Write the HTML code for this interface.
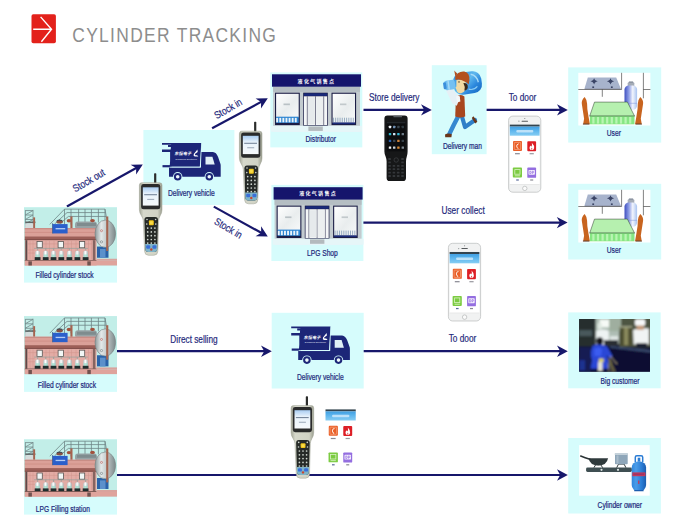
<!DOCTYPE html>
<html lang="en">
<head>
<meta charset="utf-8">
<title>Cylinder Tracking</title>
<style>
html,body{margin:0;padding:0;background:#fff;}
body{width:680px;height:532px;overflow:hidden;}
svg{display:block;}
text{font-family:"Liberation Sans","Noto Sans CJK SC",sans-serif;}
.lbl{font-size:8.15px;fill:#1f2a7c;text-anchor:middle;stroke:#1f2a7c;stroke-width:0.22px;}
.big{font-size:10.1px;fill:#1f2a7c;text-anchor:middle;stroke:#1f2a7c;stroke-width:0.2px;}
.ln{stroke:#17176b;stroke-width:2.2;fill:none;}
.hd{fill:#17176b;}
.bx{fill:#d6fcfc;}
</style>
</head>
<body>
<svg width="680" height="532" viewBox="0 0 680 532">
<defs>

<linearGradient id="tankg" x1="0" y1="0" x2="1" y2="0">
<stop offset="0" stop-color="#8d9899"/><stop offset="0.3" stop-color="#e4e9e9"/><stop offset="0.55" stop-color="#c3cbcc"/><stop offset="1" stop-color="#7d898a"/>
</linearGradient>
<linearGradient id="cylg" x1="0" y1="0" x2="1" y2="0">
<stop offset="0" stop-color="#b9c4c4"/><stop offset="0.45" stop-color="#ffffff"/><stop offset="1" stop-color="#a9b5b5"/>
</linearGradient>
<g id="factory">
<rect x="0" y="0" width="93" height="57.2" fill="#c2eee8"/>
<!-- left tower lattice -->
<g stroke="#73898a" stroke-width="0.8" fill="none">
<path d="M1.2 3.2H9M1.2 7.6H9M1.2 12H9M9 2.6V20M1.4 3V20M1.2 7.6L9 3.2M1.2 12L9 7.6M1.2 16.4L9 12"/>
</g>
<rect x="1.2" y="15.8" width="8.4" height="4.8" fill="#d5dcdc"/>
<rect x="1.4" y="14" width="10" height="1.5" fill="#5e6464"/>
<rect x="9.2" y="9.9" width="1.9" height="10.6" fill="#a5634f"/>
<!-- roof rail structure -->
<g stroke="#6f8586" stroke-width="0.8" fill="none">
<path d="M25.8 16.8L40.5 1.8H81L82.6 11M30.5 16.5L43 5.2H81.4M35.5 16.5L44.4 9H82M40.5 1.8V17M47 1.8V17M54.6 1.8V15M61 1.8V15M67.4 1.8V15M74.4 1.8V15M81 1.8V13"/>
</g>
<!-- roof grey tank -->
<rect x="51" y="14" width="22" height="7.6" rx="3" fill="#97a3a5"/>
<rect x="53" y="15.4" width="19" height="3" fill="#7f8c8e"/>
<!-- small domes -->
<ellipse cx="35.6" cy="13.6" rx="3" ry="1.5" fill="#3d4a52"/>
<ellipse cx="35.6" cy="14.6" rx="3.2" ry="1.3" fill="#8a5244"/>
<ellipse cx="45" cy="13.2" rx="2.3" ry="1.7" fill="#a2503c"/>
<ellipse cx="68.5" cy="13" rx="2.4" ry="1.6" fill="#a2503c"/>
<rect x="46.4" y="9" width="2.1" height="12" fill="#a5634f"/>
<!-- main building -->
<rect x="0.8" y="20.4" width="71.8" height="36.8" fill="#e3aca5"/>
<rect x="0.8" y="20.4" width="71.8" height="8.4" fill="#dba098"/>
<rect x="0.8" y="20.4" width="71.8" height="1.2" fill="#c98d85"/>
<rect x="0.8" y="24.2" width="71.8" height="0.9" fill="#cf8f86"/>
<rect x="0.8" y="28.7" width="71.8" height="3.4" fill="#9d5f58"/>
<rect x="0.8" y="31.4" width="71.8" height="0.9" fill="#7e4a45"/>
<g stroke="#d0948c" stroke-width="0.5">
<path d="M6 33V51M9 33V51M22 33V51M25.5 33V51M30 33V51M44 33V51M47.5 33V51M52 33V51M64.5 33V51M67.5 33V51M4 36H68M4 42H11M4 45H11"/>
</g>
<rect x="1.4" y="32.3" width="1.9" height="19.6" fill="#5e4a48"/>
<rect x="68.8" y="32.3" width="2.6" height="19.6" fill="#856460"/>
<!-- windows -->
<g fill="#f2f7f6" stroke="#5b5654" stroke-width="0.8">
<rect x="13" y="33.6" width="5.3" height="6.2"/>
<rect x="34.1" y="33.6" width="5.3" height="6.2"/>
<rect x="55.4" y="33.6" width="5.3" height="6.2"/>
</g>
<!-- pipes above cylinders -->
<g stroke="#86a09c" stroke-width="0.6" fill="none">
<path d="M13.6 40.4V43.2" /><path d="M21.7 40.4V43.2" /><path d="M29.5 40.4V43.2" /><path d="M37.3 40.4V43.2" /><path d="M45.4 40.4V43.2" /><path d="M53.4 40.4V43.2" /><path d="M61.6 40.4V43.2" /><path d="M10 40.4H64"/>
</g>
<!-- cylinders -->
<rect x="11.2" y="42.8" width="4.8" height="7.4" rx="2" fill="url(#cylg)"/><rect x="19.3" y="42.8" width="4.8" height="7.4" rx="2" fill="url(#cylg)"/><rect x="27.1" y="42.8" width="4.8" height="7.4" rx="2" fill="url(#cylg)"/><rect x="34.9" y="42.8" width="4.8" height="7.4" rx="2" fill="url(#cylg)"/><rect x="43.0" y="42.8" width="4.8" height="7.4" rx="2" fill="url(#cylg)"/><rect x="51.0" y="42.8" width="4.8" height="7.4" rx="2" fill="url(#cylg)"/><rect x="59.2" y="42.8" width="4.8" height="7.4" rx="2" fill="url(#cylg)"/><rect x="11.8" y="46.4" width="3.6" height="3" fill="#9bdccb" opacity="0.75"/><rect x="19.9" y="46.4" width="3.6" height="3" fill="#9bdccb" opacity="0.75"/><rect x="27.7" y="46.4" width="3.6" height="3" fill="#9bdccb" opacity="0.75"/><rect x="35.5" y="46.4" width="3.6" height="3" fill="#9bdccb" opacity="0.75"/><rect x="43.6" y="46.4" width="3.6" height="3" fill="#9bdccb" opacity="0.75"/><rect x="51.6" y="46.4" width="3.6" height="3" fill="#9bdccb" opacity="0.75"/><rect x="59.8" y="46.4" width="3.6" height="3" fill="#9bdccb" opacity="0.75"/><rect x="10.7" y="49" width="5.8" height="3" fill="#1f2e2e"/><rect x="18.8" y="49" width="5.8" height="3" fill="#1f2e2e"/><rect x="26.6" y="49" width="5.8" height="3" fill="#1f2e2e"/><rect x="34.4" y="49" width="5.8" height="3" fill="#1f2e2e"/><rect x="42.5" y="49" width="5.8" height="3" fill="#1f2e2e"/><rect x="50.5" y="49" width="5.8" height="3" fill="#1f2e2e"/><rect x="58.7" y="49" width="5.8" height="3" fill="#1f2e2e"/>
<!-- base -->
<rect x="0.8" y="51.8" width="71.8" height="0.8" fill="#5e403d"/>
<rect x="0.8" y="52.5" width="92.2" height="4.7" fill="#dfa39c"/>
<rect x="4.4" y="53.1" width="3.5" height="4.1" fill="#71524f"/>
<rect x="63.3" y="53.1" width="3.5" height="4.1" fill="#71524f"/>
<rect x="72.6" y="50.6" width="20.4" height="2" fill="#d9a39d"/>
<!-- big tank -->
<rect x="73" y="38.6" width="11.5" height="11" fill="#2a62a8"/>
<rect x="76" y="41" width="5.5" height="8.6" fill="#5b90cb"/>
<ellipse cx="81.3" cy="26" rx="10.3" ry="13.4" fill="url(#tankg)"/>
<ellipse cx="81.3" cy="26" rx="10.3" ry="13.4" fill="none" stroke="#748182" stroke-width="0.6"/>
<rect x="82.2" y="9" width="2.1" height="34" fill="#a5634f"/>
<circle cx="77.5" cy="23" r="1" fill="none" stroke="#c0605a" stroke-width="0.6"/>
<circle cx="77.5" cy="34" r="1.1" fill="none" stroke="#6f7c7d" stroke-width="0.6"/>
<!-- blue sign -->
<rect x="28.1" y="15.8" width="1" height="10" fill="#3f5f9a"/>
<rect x="29" y="16.5" width="14.6" height="9.2" fill="#2a5fcb"/>
<rect x="31.6" y="20.4" width="9.6" height="1.3" fill="#b4ccf4"/>
</g>


<g id="truck">
<g fill="#1c2678">
<!-- cargo + speed bars -->
<path d="M0.2 0.4H39.6L38.1 24.1H7.9L8.3 18.5V9.4H0.2V6.9H8.9L9.1 4.4H6.2V2.4H9.3L9.4 2.2H0.2Z"/>
<rect x="0.7" y="22.5" width="9" height="2.2"/>
<!-- chassis -->
<path d="M7.2 25H39.2V9.4H51.1Q54.5 9.6 56.3 14.5L58.7 21.3Q58.9 22 58.9 23V34.1H7.2Z"/>
</g>
<!-- cab window -->
<path d="M43.7 14.1H50.6L52.9 21.8H43.7Z" fill="#dfeff6"/>
<!-- gap between cargo and cab -->
<path d="M39.9 0.4L38.5 24.5" stroke="#d6fcfc" stroke-width="0.7"/>
<path d="M7.9 24.55H38.6" stroke="#d6fcfc" stroke-width="0.7"/>
<!-- wheels -->
<g>
<circle cx="15.9" cy="34.1" r="4.7" fill="#d6fcfc"/><circle cx="15.9" cy="34.1" r="3.8" fill="#1c2678"/><circle cx="15.9" cy="34.1" r="1.8" fill="#eef7fa"/>
<circle cx="47.5" cy="34.1" r="4.7" fill="#d6fcfc"/><circle cx="47.5" cy="34.1" r="3.8" fill="#1c2678"/><circle cx="47.5" cy="34.1" r="1.8" fill="#eef7fa"/>
</g>
<text x="12.4" y="12.8" font-size="4.2" font-weight="bold" font-style="italic" fill="#fff" letter-spacing="0.1" style="font-family:'Liberation Sans','Noto Sans CJK SC',sans-serif">东恒电子</text>
<path d="M35.6 6.9L32 11.5Q31.2 13.6 33 14H36.6L35.3 12.6H33.6Q32.8 12.2 33.4 11.2L35.9 9.4Z" fill="#fff"/>
<text x="13.8" y="17" font-size="2.35" fill="#e8ecf8" textLength="21.2" lengthAdjust="spacingAndGlyphs">Dongheng Electronic</text>
</g>


<linearGradient id="scbody" x1="0" y1="0" x2="1" y2="0">
<stop offset="0" stop-color="#a3a697"/><stop offset="0.18" stop-color="#d6d8cb"/><stop offset="0.8" stop-color="#d0d2c4"/><stop offset="1" stop-color="#9a9d8e"/>
</linearGradient>
<linearGradient id="scscr" x1="0" y1="0" x2="0" y2="1">
<stop offset="0" stop-color="#a9cdf2"/><stop offset="0.35" stop-color="#e8f2fb"/><stop offset="1" stop-color="#f6f9fb"/>
</linearGradient>
<g id="scanner">
<rect x="14.7" y="-9.4" width="2.2" height="10.5" rx="0.7" fill="#2b2c2b"/>
<path d="M2.4 0H20.2Q22.6 0 22.6 2.4V27Q22.6 30 20.8 33Q19.3 35.6 19.2 38L18.4 68.6Q18.2 72.6 14.4 72.6H9.2Q5.4 72.6 5.2 68.6L3.9 38Q3.8 35.6 2 33Q0 30 0 27V2.4Q0 0 2.4 0Z" fill="url(#scbody)" stroke="#9b9e90" stroke-width="0.5"/>
<rect x="1.7" y="1.4" width="19.2" height="25.2" rx="2.4" fill="#2a2b2b"/>
<rect x="3.4" y="4.6" width="15.8" height="18.3" fill="url(#scscr)"/>
<rect x="4.8" y="11.6" width="12.8" height="0.9" fill="#5d6e86"/>
<rect x="7.8" y="16.2" width="7" height="0.8" fill="#8593a6"/>
<!-- keypad -->
<path d="M7.6 34.4H15.8Q18.6 34.4 18.6 37.4L17.8 66.4Q17.6 69.4 14.8 69.4H8.8Q6 69.4 5.9 66.4L5 37.4Q5 34.4 7.6 34.4Z" fill="#262a27"/>
<path d="M5.75 61.4H17.95L17.8 66.4Q17.6 69.4 14.8 69.4H8.8Q6 69.4 5.9 66.4Z" fill="#7fb4c8"/>
<g fill="#cfd6cf">
<circle cx="7.6" cy="36.8" r="0.8"/><circle cx="16.2" cy="36.8" r="0.8"/>
<circle cx="7.4" cy="41.4" r="0.8"/><circle cx="16.4" cy="41.4" r="0.8"/>
<circle cx="8.3" cy="45.4" r="0.85"/><circle cx="11.9" cy="45.4" r="0.85"/><circle cx="15.5" cy="45.4" r="0.85"/><circle cx="8.3" cy="49.2" r="0.85"/><circle cx="11.9" cy="49.2" r="0.85"/><circle cx="15.5" cy="49.2" r="0.85"/><circle cx="8.3" cy="53" r="0.85"/><circle cx="11.9" cy="53" r="0.85"/><circle cx="15.5" cy="53" r="0.85"/><circle cx="8.3" cy="56.8" r="0.85"/><circle cx="11.9" cy="56.8" r="0.85"/><circle cx="15.5" cy="56.8" r="0.85"/><circle cx="8.3" cy="60.4" r="0.85"/><circle cx="11.9" cy="60.4" r="0.85"/><circle cx="15.5" cy="60.4" r="0.85"/>
</g>
<rect x="9.5" y="37.6" width="4.9" height="4.9" rx="1" fill="#f0c419"/>
<rect x="10.5" y="38.6" width="2.9" height="2.9" rx="0.6" fill="#f8dc4a"/>
<g fill="#3a6fd8">
<rect x="6.8" y="62.6" width="4" height="3.4" rx="1.2"/><rect x="13" y="62.6" width="4" height="3.4" rx="1.2"/>
</g>
<circle cx="11.9" cy="66.8" r="1.2" fill="#c8452f"/>
</g>


<linearGradient id="apphd" x1="0" y1="0" x2="0" y2="1">
<stop offset="0" stop-color="#3f9fe3"/><stop offset="0.5" stop-color="#62b8ee"/><stop offset="1" stop-color="#86cdf3"/>
</linearGradient>
<g id="app">
<rect x="0" y="0" width="29.8" height="2" fill="#33444f"/>
<rect x="0" y="2" width="29.8" height="9.1" fill="url(#apphd)"/>
<rect x="6.5" y="5.4" width="17" height="2.4" rx="1" fill="#d4ecfb" opacity="0.8"/>
<!-- orange icon -->
<rect x="3.2" y="16.4" width="9" height="9.9" rx="0.9" fill="#ea5f28"/>
<rect x="4.5" y="17.8" width="6.4" height="7.1" rx="0.5" fill="none" stroke="#f6b190" stroke-width="0.6"/>
<path d="M8.9 19.2Q6.2 19.8 7 22.4L8.4 24.2" stroke="#fde9dd" stroke-width="1" fill="none"/>
<!-- red icon -->
<rect x="17.5" y="16.6" width="8.8" height="10" rx="0.9" fill="#dd1f26"/>
<path d="M22 18.2Q24.8 21 24.3 23.6Q23.8 25.5 22 25.5Q19.9 25.5 19.7 23.6Q19.6 22 20.8 20.8Q21.1 22 21.7 21.8Q22.5 20.4 22 18.2Z" fill="#fff"/>
<path d="M22 23Q23 24.1 22 25.5Q20.9 24.3 22 23Z" fill="#dd1f26"/>
<!-- captions -->
<rect x="5.2" y="28.5" width="4.8" height="1.2" fill="#8a8a94"/>
<rect x="19.8" y="28.5" width="4.2" height="1.2" fill="#9a9aa0"/>
<!-- green icon -->
<rect x="3" y="43" width="9.2" height="9.9" rx="0.9" fill="#7ccb42"/>
<rect x="5" y="45" width="5.2" height="4.6" fill="none" stroke="#d9f2c4" stroke-width="0.8"/>
<path d="M5 51.2H10.2" stroke="#d9f2c4" stroke-width="0.8"/>
<!-- purple icon -->
<rect x="17.5" y="43" width="8.8" height="10.2" rx="0.9" fill="#946ee0"/>
<rect x="18.7" y="45.4" width="6.4" height="4.8" rx="0.7" fill="#f3edfc"/>
<path d="M20 46.5V49.2M20 46.5Q21.5 46.5 21.5 47.8Q21.5 49.2 20 49.2M22.6 49.2V46.5Q24.1 46.5 24.1 47.4Q24.1 48.3 22.6 48.3" stroke="#946ee0" stroke-width="0.65" fill="none"/>
<rect x="6.4" y="54.8" width="2.6" height="1.2" fill="#5a6a9a"/>
<rect x="20.4" y="54.8" width="3" height="1.2" fill="#8a8a94"/>
</g>
<g id="phone">
<rect x="0.3" y="0.3" width="32.2" height="76.1" rx="4.2" fill="#f1f2f2" stroke="#b9bcbc" stroke-width="0.7"/>
<rect x="1.5" y="8.8" width="29.8" height="60" fill="#fff"/>
<rect x="13.2" y="5" width="6.6" height="0.9" rx="0.45" fill="#55595c"/>
<circle cx="16.5" cy="2.7" r="0.5" fill="#6a6e71"/>
<circle cx="10.6" cy="5.4" r="0.6" fill="#8a8e91"/>
<use href="#app" x="1.5" y="8.8"/>
<rect x="1.5" y="68.3" width="29.8" height="0.5" fill="#d5d7d7"/>
<circle cx="16.5" cy="72.6" r="2.2" fill="#fbfbfb" stroke="#a9acac" stroke-width="0.6"/>
</g>


<linearGradient id="wing" x1="0" y1="0" x2="1" y2="1">
<stop offset="0" stop-color="#ffffff"/><stop offset="0.55" stop-color="#e9edee"/><stop offset="1" stop-color="#f7f9f9"/>
</linearGradient>
<g id="store">
<rect x="1" y="12" width="87" height="39.6" fill="#c3cbcf"/>
<rect x="1" y="12.4" width="87" height="5.2" fill="#b5bec3"/>
<rect x="0" y="0" width="89" height="12.4" fill="#15156c"/>
<text x="44.5" y="8.3" font-size="5" font-weight="bold" fill="#fff" text-anchor="middle" letter-spacing="1.3" style="font-family:'Liberation Sans','Noto Sans CJK SC',sans-serif">液化气销售点</text>
<!-- left window -->
<rect x="3" y="18.4" width="24.8" height="32.4" fill="#1b1d45"/>
<rect x="4.1" y="19.5" width="22.6" height="23.6" fill="url(#wing)"/>
<rect x="4.1" y="42.4" width="22.6" height="6.2" fill="#2f86d2"/>
<rect x="4.2" y="43.6" width="1.9" height="4.4" fill="#eaf4fb"/><rect x="7.3" y="43.6" width="1.9" height="4.4" fill="#eaf4fb"/><rect x="10.4" y="43.6" width="1.9" height="4.4" fill="#eaf4fb"/><rect x="13.5" y="43.6" width="1.9" height="4.4" fill="#eaf4fb"/><rect x="16.6" y="43.6" width="1.9" height="4.4" fill="#eaf4fb"/><rect x="19.7" y="43.6" width="1.9" height="4.4" fill="#eaf4fb"/><rect x="22.8" y="43.6" width="1.9" height="4.4" fill="#eaf4fb"/>
<rect x="11.5" y="29.2" width="6.4" height="1.7" fill="#b9c1c5"/>
<!-- door -->
<rect x="31.2" y="18.4" width="24.6" height="33" fill="#1b1d45"/>
<rect x="31.9" y="22" width="23.2" height="28.8" fill="#f4f6f7"/>
<rect x="31.9" y="19" width="23.2" height="2.6" fill="#1a2a7a"/>
<g stroke="#2a2c4a" stroke-width="0.6"><path d="M35.3 22V50.8M43.5 22V50.8M51.7 22V50.8"/></g>
<rect x="36" y="23" width="6.8" height="27" fill="#e6eaec"/>
<rect x="44.2" y="23" width="6.8" height="27" fill="#eceff0"/>
<!-- right window -->
<rect x="59.5" y="18.4" width="24.6" height="32.4" fill="#1b1d45"/>
<rect x="60.6" y="19.5" width="22.4" height="29" fill="url(#wing)"/>
<rect x="61.0" y="43.4" width="0.9" height="4.8" fill="#8fa6bd"/><rect x="63.2" y="43.4" width="0.9" height="4.8" fill="#8fa6bd"/><rect x="65.4" y="43.4" width="0.9" height="4.8" fill="#8fa6bd"/><rect x="67.6" y="43.4" width="0.9" height="4.8" fill="#8fa6bd"/><rect x="69.8" y="43.4" width="0.9" height="4.8" fill="#8fa6bd"/><rect x="72.0" y="43.4" width="0.9" height="4.8" fill="#8fa6bd"/><rect x="74.2" y="43.4" width="0.9" height="4.8" fill="#8fa6bd"/><rect x="76.4" y="43.4" width="0.9" height="4.8" fill="#8fa6bd"/><rect x="78.6" y="43.4" width="0.9" height="4.8" fill="#8fa6bd"/><rect x="80.8" y="43.4" width="0.9" height="4.8" fill="#8fa6bd"/>
<rect x="60.6" y="48.2" width="22.4" height="1.6" fill="#1a2a7a"/>
<rect x="68" y="29.2" width="6.4" height="1.7" fill="#c2c9cc"/>
<!-- floor and step -->
<rect x="-1" y="51.6" width="91" height="5.8" fill="#e6f6f8"/>
<rect x="36.4" y="52.2" width="14.4" height="4.4" fill="#b3babd"/>
<rect x="1" y="56.8" width="87" height="0.7" fill="#e8f4f8"/>
</g>


<linearGradient id="gasg" x1="0" y1="0" x2="1" y2="0">
<stop offset="0" stop-color="#3f4fc0"/><stop offset="0.35" stop-color="#8f9fe6"/><stop offset="0.65" stop-color="#f2f5fd"/><stop offset="1" stop-color="#a9c3f0"/>
</linearGradient>
<g id="kitchen">
<rect x="0" y="0" width="72.1" height="52.7" fill="#fff"/>
<!-- stove -->
<path d="M9.5 4.7H37.9L42.4 15.4H6.3Z" fill="#a7b3cc"/>
<path d="M6.3 15.4H42.4V16.4H6.3Z" fill="#7f8aa6"/>
<g fill="#3b4566">
<path d="M15.8 5.4L16.8 7.5L19.4 8.5L16.8 9.5L15.8 11.6L14.8 9.5L12.2 8.5L14.8 7.5Z"/>
<path d="M32.2 5.4L33.2 7.5L35.8 8.5L33.2 9.5L32.2 11.6L31.2 9.5L28.6 8.5L31.2 7.5Z"/>
<circle cx="15.8" cy="8.5" r="1.6"/><circle cx="32.2" cy="8.5" r="1.6"/>
<rect x="14" y="13.6" width="1.8" height="1.6"/><rect x="32.6" y="13.6" width="1.8" height="1.6"/>
</g>
<g stroke="#2d2d2d" stroke-width="0.6" fill="none">
<path d="M0 16.7H43.3M43.3 0V16.7M65.1 0V25.5M65.1 16.7H72.1M24 16.7V24"/>
</g>
<!-- gas cylinder -->
<rect x="49.4" y="9.4" width="6.6" height="5" rx="1" fill="#a4abb6"/>
<rect x="50.6" y="8.6" width="4.2" height="1.6" fill="#8d95a2"/>
<rect x="46.2" y="12.6" width="12.6" height="24.4" rx="4.2" fill="url(#gasg)"/>
<path d="M46.4 30.5H58.6" stroke="#7f93d8" stroke-width="0.5"/>
<!-- chairs -->
<path d="M6.4 24.3Q3 27.4 3.5 31L5.8 46L4.8 51.5H11.6L10.2 43.6Q8.6 36 8.8 31Q8.6 27 6.4 24.3Z" fill="#c8641f"/>
<path d="M61.9 24.3Q65.3 27.4 64.8 31L62.5 46L63.5 51.5H56.7L58.1 43.6Q59.7 36 59.5 31Q59.7 27 61.9 24.3Z" fill="#c8641f"/>
<path d="M4.6 51.3H11M57.4 51.3H63.6" stroke="#2d2d2d" stroke-width="0.7"/>
<!-- table -->
<path d="M16.2 29.3H49.1L56.3 43.3H11.4Z" fill="#b6f0af" stroke="#2f3b2f" stroke-width="0.5"/>
<rect x="11.6" y="43.3" width="44.6" height="8.2" fill="#86e683"/>
<rect x="14.0" y="44.2" width="2.2" height="6.6" fill="#b9f5b3"/><rect x="18.6" y="44.2" width="2.2" height="6.6" fill="#b9f5b3"/><rect x="23.2" y="44.2" width="2.2" height="6.6" fill="#b9f5b3"/><rect x="27.8" y="44.2" width="2.2" height="6.6" fill="#b9f5b3"/><rect x="32.4" y="44.2" width="2.2" height="6.6" fill="#b9f5b3"/><rect x="37.0" y="44.2" width="2.2" height="6.6" fill="#b9f5b3"/><rect x="41.6" y="44.2" width="2.2" height="6.6" fill="#b9f5b3"/><rect x="46.2" y="44.2" width="2.2" height="6.6" fill="#b9f5b3"/><rect x="50.8" y="44.2" width="2.2" height="6.6" fill="#b9f5b3"/>
<path d="M11.4 43.3H56.3" stroke="#3d6b3d" stroke-width="0.5"/>
</g>

<!--DEFS-->
</defs>
<rect width="680" height="532" fill="#fff"/>

<!-- header -->
<g id="header">
<rect x="31.5" y="14.2" width="24.4" height="29" rx="1.8" fill="#e3211b"/>
<path d="M33.2 29.3H51M40.6 16.9L51.5 29.3L41.4 41.7" stroke="#fff" stroke-width="1.4" fill="none"/>
<text id="title" transform="translate(72.3,42) scale(0.88,1)" font-size="19.8" fill="#8d8d8d" letter-spacing="1.5">CYLINDER TRACKING</text>
</g>

<!-- boxes -->
<g id="boxes">
<rect class="bx" x="24" y="207.3" width="93" height="75.3"/>
<rect class="bx" x="143.4" y="130" width="91" height="75"/>
<rect class="bx" x="270.3" y="72.4" width="92" height="75"/>
<rect class="bx" x="271.4" y="184.9" width="92" height="76.1"/>
<rect class="bx" x="431.8" y="65.2" width="54.8" height="89"/>
<rect class="bx" x="568.2" y="67.4" width="93" height="75.2"/>
<rect class="bx" x="568.2" y="183.8" width="93" height="75.7"/>
<rect class="bx" x="24" y="316.1" width="93" height="75.8"/>
<rect class="bx" x="271.7" y="312.8" width="92" height="75.7"/>
<rect class="bx" x="568.2" y="312.4" width="92.5" height="75.9"/>
<rect class="bx" x="24" y="439.4" width="93" height="75.2"/>
<rect class="bx" x="568.2" y="438" width="92.7" height="75.5"/>
</g>

<!-- arrows -->
<g id="arrows">
<path class="ln" d="M363.5 109.9L425.80 109.90"/><path class="hd" transform="translate(431.8,109.9) rotate(0.00)" d="M0 0L-10.8 -5.7L-7.6 0L-10.8 5.7Z"/>
<path class="ln" d="M486.6 109.9L561.80 109.90"/><path class="hd" transform="translate(567.8,109.9) rotate(0.00)" d="M0 0L-10.8 -5.7L-7.6 0L-10.8 5.7Z"/>
<path class="ln" d="M363.4 222.6L561.60 222.60"/><path class="hd" transform="translate(567.6,222.6) rotate(0.00)" d="M0 0L-10.8 -5.7L-7.6 0L-10.8 5.7Z"/>
<path class="ln" d="M117 351.2L265.80 351.20"/><path class="hd" transform="translate(271.8,351.2) rotate(0.00)" d="M0 0L-10.8 -5.7L-7.6 0L-10.8 5.7Z"/>
<path class="ln" d="M363.7 351.2L561.80 351.20"/><path class="hd" transform="translate(567.8,351.2) rotate(0.00)" d="M0 0L-10.8 -5.7L-7.6 0L-10.8 5.7Z"/>
<path class="ln" d="M117 475L561.80 475.00"/><path class="hd" transform="translate(567.8,475) rotate(0.00)" d="M0 0L-10.8 -5.7L-7.6 0L-10.8 5.7Z"/>
<path class="ln" d="M66.9 206.5L137.55 167.31"/><path class="hd" transform="translate(142.8,164.4) rotate(-29.02)" d="M0 0L-10.8 -5.7L-7.6 0L-10.8 5.7Z"/>
<path class="ln" d="M212.1 128.2L262.51 101.14"/><path class="hd" transform="translate(267.8,98.3) rotate(-28.23)" d="M0 0L-10.8 -5.7L-7.6 0L-10.8 5.7Z"/>
<path class="ln" d="M213.8 206.6L262.55 233.50"/><path class="hd" transform="translate(267.8,236.4) rotate(28.89)" d="M0 0L-10.8 -5.7L-7.6 0L-10.8 5.7Z"/>
</g>

<!-- labels -->
<g id="labels">
<text class="lbl" transform="translate(64.6,278.4) scale(0.82,1)">Filled cylinder stock</text>
<text class="lbl" transform="translate(191.3,196.2) scale(0.82,1)">Delivery vehicle</text>
<text class="lbl" transform="translate(320.7,142) scale(0.82,1)">Distributor</text>
<text class="lbl" transform="translate(322.4,255.5) scale(0.82,1)">LPG Shop</text>
<text class="lbl" transform="translate(462.4,149.3) scale(0.82,1)">Delivery man</text>
<text class="lbl" transform="translate(613.8,136.3) scale(0.82,1)">User</text>
<text class="lbl" transform="translate(613.8,252.9) scale(0.82,1)">User</text>
<text class="lbl" transform="translate(66.9,387.7) scale(0.82,1)">Filled cylinder stock</text>
<text class="lbl" transform="translate(320.3,379.8) scale(0.82,1)">Delivery vehicle</text>
<text class="lbl" transform="translate(620,383.6) scale(0.82,1)">Big customer</text>
<text class="lbl" transform="translate(62.8,511.9) scale(0.82,1)">LPG Filling station</text>
<text class="lbl" transform="translate(619.8,507.8) scale(0.82,1)">Cylinder owner</text>
<text class="big" transform="translate(394.2,100.8) scale(0.82,1)">Store delivery</text>
<text class="big" transform="translate(522.5,100.8) scale(0.82,1)">To door</text>
<text class="big" transform="translate(463.1,213.8) scale(0.82,1)">User collect</text>
<text class="big" transform="translate(194,343.3) scale(0.82,1)">Direct selling</text>
<text class="big" transform="translate(462.5,342) scale(0.82,1)">To door</text>
<text class="big" style="font-size:10.4px" transform="translate(90.6,183.6) rotate(-30.5) scale(0.82,1)">Stock out</text>
<text class="big" style="font-size:10.4px" transform="translate(229.8,111.8) rotate(-30) scale(0.82,1)">Stock in</text>
<text class="big" style="font-size:10.4px" transform="translate(226.6,231.2) rotate(30.5) scale(0.82,1)">Stock in</text>
</g>


<g id="factories">
<use href="#factory" transform="translate(24,207.3) scale(1,1.017)"/>
<use href="#factory" transform="translate(24,316.1) scale(1,1.014)"/>
<use href="#factory" x="24" y="439.4"/>
</g>

<g id="trucks">
<use href="#truck" x="161.8" y="142.6"/>
<use href="#truck" x="291" y="326"/>
</g>

<g id="scanners">
<use href="#scanner" x="239.4" y="131.2"/>
<use href="#scanner" x="139.4" y="182.7"/>
<use href="#scanner" x="291.1" y="405.6"/>
</g>

<g id="pda" transform="translate(384.4,115.5)">
<path d="M3 0H20.2Q23.2 0 23.2 3V36Q23.2 38.5 22.4 41Q21.6 43.5 21.6 46V62.5Q21.6 65.6 18.6 65.6H5.2Q2.2 65.6 2.2 62.5V46Q2.2 43.5 1.2 41Q0 38.5 0 36V3Q0 0 3 0Z" fill="#161718"/>
<rect x="9" y="0.2" width="8.6" height="1.6" rx="0.6" fill="#5a5f63"/>
<rect x="2.4" y="6.2" width="18.6" height="29.6" fill="#0c0d0f"/>
<rect x="2.4" y="6.2" width="18.6" height="1.6" fill="#23272b"/>
<rect x="4.4" y="10.3" width="2.4" height="2.4" rx="0.4" fill="#e9eef2"/><rect x="8.6" y="10.3" width="2.4" height="2.4" rx="0.4" fill="#6f8fb3"/><rect x="12.8" y="10.3" width="2.4" height="2.4" rx="0.4" fill="#3b4650"/><rect x="17.2" y="10.3" width="2.4" height="2.4" rx="0.4" fill="#2f3a40"/><rect x="4.4" y="17.4" width="2.4" height="2.4" rx="0.4" fill="#2fb5c9"/><rect x="8.6" y="17.4" width="2.4" height="2.4" rx="0.4" fill="#cfe3f2"/><rect x="12.8" y="17.4" width="2.4" height="2.4" rx="0.4" fill="#35b8d6"/><rect x="17.2" y="17.4" width="2.4" height="2.4" rx="0.4" fill="#6c7a86"/><rect x="4.4" y="24.2" width="2.4" height="2.4" rx="0.4" fill="#2a5fa8"/><rect x="8.6" y="24.2" width="2.4" height="2.4" rx="0.4" fill="#39434d"/><rect x="12.8" y="24.2" width="2.4" height="2.4" rx="0.4" fill="#c9803a"/><rect x="17.2" y="24.2" width="2.4" height="2.4" rx="0.4" fill="#37424a"/><rect x="4.4" y="30.9" width="2.4" height="2.4" rx="0.4" fill="#f0f2f3"/><rect x="8.6" y="30.9" width="2.4" height="2.4" rx="0.4" fill="#c9d0d6"/><rect x="12.8" y="30.9" width="2.4" height="2.4" rx="0.4" fill="#d98a35"/><rect x="17.2" y="30.9" width="2.4" height="2.4" rx="0.4" fill="#7d8790"/>
<circle cx="11.8" cy="44.5" r="2.2" fill="none" stroke="#3d4144" stroke-width="0.7"/>
<rect x="3.9" y="42.6" width="2.6" height="1.8" rx="0.5" fill="#34373a"/><rect x="16.8" y="42.6" width="2.6" height="1.8" rx="0.5" fill="#34373a"/><rect x="3.9" y="46.0" width="2.6" height="1.8" rx="0.5" fill="#34373a"/><rect x="16.8" y="46.0" width="2.6" height="1.8" rx="0.5" fill="#34373a"/><rect x="3.9" y="49.4" width="2.6" height="1.8" rx="0.5" fill="#34373a"/><rect x="8.2" y="49.4" width="2.6" height="1.8" rx="0.5" fill="#34373a"/><rect x="12.5" y="49.4" width="2.6" height="1.8" rx="0.5" fill="#34373a"/><rect x="16.8" y="49.4" width="2.6" height="1.8" rx="0.5" fill="#34373a"/><rect x="3.9" y="52.8" width="2.6" height="1.8" rx="0.5" fill="#34373a"/><rect x="8.2" y="52.8" width="2.6" height="1.8" rx="0.5" fill="#34373a"/><rect x="12.5" y="52.8" width="2.6" height="1.8" rx="0.5" fill="#34373a"/><rect x="16.8" y="52.8" width="2.6" height="1.8" rx="0.5" fill="#34373a"/><rect x="3.9" y="56.2" width="2.6" height="1.8" rx="0.5" fill="#34373a"/><rect x="8.2" y="56.2" width="2.6" height="1.8" rx="0.5" fill="#34373a"/><rect x="12.5" y="56.2" width="2.6" height="1.8" rx="0.5" fill="#34373a"/><rect x="16.8" y="56.2" width="2.6" height="1.8" rx="0.5" fill="#34373a"/><rect x="3.9" y="59.6" width="2.6" height="1.8" rx="0.5" fill="#34373a"/><rect x="8.2" y="59.6" width="2.6" height="1.8" rx="0.5" fill="#34373a"/><rect x="12.5" y="59.6" width="2.6" height="1.8" rx="0.5" fill="#34373a"/><rect x="16.8" y="59.6" width="2.6" height="1.8" rx="0.5" fill="#34373a"/>
</g>


<g id="phones">
<use href="#phone" x="508.3" y="115.8"/>
<use href="#phone" transform="translate(448.1,243) scale(1,1.021)"/>
<use href="#app" transform="translate(325.5,409.4) scale(1.015,1)"/>
</g>

<g id="stores">
<use href="#store" x="272" y="74.3"/>
<use href="#store" x="273.6" y="187.2"/>
</g>

<linearGradient id="botg" x1="0" y1="0" x2="1" y2="1">
<stop offset="0" stop-color="#2a8ae0"/><stop offset="0.45" stop-color="#5fb8ee"/><stop offset="0.7" stop-color="#2a86dc"/><stop offset="1" stop-color="#1668c0"/>
</linearGradient>
<g id="man" transform="translate(431.8,65)">
<!-- bottle body -->
<g transform="rotate(-8 34 18)">
<rect x="21.5" y="7.2" width="28.4" height="22" rx="8.5" fill="url(#botg)"/>
<path d="M40 10Q46 12 46.5 19" stroke="#a9dcf8" stroke-width="1.3" fill="none"/>
<path d="M36 24.5Q41 26.5 45 23" stroke="#8ccdf4" stroke-width="1.1" fill="none"/>
</g>
<!-- back leg -->
<path d="M30 51L33.2 62L43.2 55" stroke="#2f7fc8" stroke-width="4.2" fill="none" stroke-linejoin="round" stroke-linecap="round"/>
<path d="M41.6 51.2L45.6 56.8L43.4 58.4L40 53Z" fill="#6a3519"/>
<!-- front leg -->
<path d="M26.6 51L21.8 60.2L17.4 69.4" stroke="#3588d0" stroke-width="4.4" fill="none" stroke-linejoin="round" stroke-linecap="round"/>
<path d="M13.2 69.6Q16 67.8 20 69.2L19.6 72.2H13.4Z" fill="#6a3519"/>
<!-- torso vest -->
<path d="M24.2 31.2Q28.5 28.6 32.6 31.4L33.4 51.6Q28.5 53.4 23.4 51.4Z" fill="#a8471f"/>
<!-- shirt / arm -->
<path d="M28.2 32.4L25 40.8L20.6 38.4L14.2 25.4L15 17.6L20.4 17L21 24.6Z" fill="#e6f0f5"/>
<path d="M24.4 31.4L27.6 30.2L28.6 36.4L25.2 37.6Z" fill="#f3f7f9"/>
<!-- bottle neck -->
<g transform="rotate(-8 34 18)">
<rect x="12.6" y="13" width="10.6" height="9.6" rx="2" fill="#74c0f1"/>
<rect x="11.4" y="14.4" width="3" height="6.8" rx="1" fill="#3b8fdc"/>
<rect x="16" y="13" width="1.4" height="9.6" fill="#a8daf7"/>
</g>
<!-- head -->
<path d="M24.6 15.2Q33.4 12.4 34.4 19.4Q35 26.4 29.4 28.2Q25.2 28.8 24.6 24.6L23.6 22.8L24.6 21.4Z" fill="#f1daa3"/>
<path d="M31.6 18Q36.4 17.6 36 22.6Q35.4 25.6 32.6 25.4Q33.6 21.6 31.6 18Z" fill="#3b2a1b"/>
<circle cx="27.2" cy="16.9" r="0.7" fill="#2b1d12"/>
<!-- cap -->
<path d="M23.4 12.8Q25.6 6 32.4 6.6Q38.2 7.6 37.6 15.4L36.8 19.6Q33 15.4 26.4 14.6L23.6 15Z" fill="#b4511f"/>
<path d="M23.8 12.6L22.4 5.4L25.4 8.6Z" fill="#b4511f"/>
</g>


<g id="kitchens">
<use href="#kitchen" x="578.3" y="72.8"/>
<use href="#kitchen" x="578.3" y="189.8"/>
</g>

<filter id="blur1" x="-5%" y="-5%" width="110%" height="110%"><feGaussianBlur stdDeviation="0.85"/></filter>
<clipPath id="phclip"><rect x="0" y="0" width="70.9" height="52.6"/></clipPath>
<g id="photo" transform="translate(579.1,319.1)" clip-path="url(#phclip)">
<rect x="0" y="0" width="70.9" height="52.6" fill="#0d1230"/>
<g filter="url(#blur1)">
<!-- backgrounds -->
<rect x="-2" y="-2" width="20" height="30" fill="#252d2e"/>
<rect x="0" y="11" width="13" height="6" fill="#4a585c"/>
<rect x="16.5" y="-2" width="27" height="27" fill="#aebdb4"/>
<rect x="40" y="-2" width="33" height="30" fill="#4d5443"/>
<rect x="30" y="-2" width="12" height="14" fill="#9fae9f"/>
<!-- lights -->
<rect x="20.5" y="0.6" width="9.5" height="7.6" fill="#f6faf6"/>
<rect x="18.5" y="4" width="4" height="6" fill="#dfe9e2"/>
<!-- background chefs -->
<path d="M17 12Q22 9 29.6 11.6L30 26.5H17Z" fill="#eef3f3"/>
<rect x="31" y="17" width="8" height="8" fill="#dfe6e4"/>
<rect x="25" y="21" width="14" height="6" fill="#2a2d33"/>
<!-- steel pot -->
<rect x="40.6" y="7.4" width="12.4" height="19.4" fill="#4e4f33"/>
<rect x="45" y="8.4" width="4" height="17.6" fill="#8b8a5d"/>
<rect x="40.6" y="7" width="12.4" height="1.6" fill="#a3a88c"/>
<!-- right chef -->
<path d="M54 11Q60 7.6 69.8 9.4V25.4H54.6Z" fill="#f1f4f4"/>
<rect x="55.8" y="0.2" width="10.4" height="6.8" rx="2" fill="#f7f9f9"/>
<rect x="57.6" y="6.4" width="7" height="4.4" fill="#c49a7a"/>
<rect x="57" y="24" width="11" height="7" fill="#1d2030"/>
<!-- counter -->
<path d="M-2 27.5H31L72 31.4V54H-2Z" fill="#0c1130"/>
<path d="M31 27L72 31V33.4L31 28.6Z" fill="#3b4c70"/>
<!-- left blue blob -->
<path d="M0 28H11.8V52.6H0Z" fill="#151e52"/>
<rect x="0" y="41" width="6" height="10" fill="#1e3090"/>
<!-- worker -->
<path d="M13.4 27Q20 22.4 28 27.4L33.4 37L30.6 39.6L27.4 36L29.6 43.4L30.4 49.6H11.4L12.8 41Q10.4 34 13.4 27Z" fill="#2946d6"/>
<path d="M15 30Q19 27 23 30L22 37H15.4Z" fill="#3a5cf0"/>
<ellipse cx="20.6" cy="22" rx="3.6" ry="3.9" fill="#17181f"/>
<rect x="19.6" y="39.4" width="5" height="3.8" rx="1" fill="#d9d16f"/>
<rect x="19" y="43" width="4.4" height="8.8" fill="#e8e6d4"/>
<path d="M29.4 39L33 44M30 41L33.6 53M32 44L36 53M29 44L30 53" stroke="#b5a64f" stroke-width="0.8" fill="none"/>
<path d="M31 37L38 45" stroke="#c9b78a" stroke-width="0.9"/>
</g>
</g>


<linearGradient id="bcyl" x1="0" y1="0" x2="1" y2="0">
<stop offset="0" stop-color="#2f86dd"/><stop offset="0.3" stop-color="#4a9ce8"/><stop offset="0.7" stop-color="#2b7cd4"/><stop offset="1" stop-color="#1c5cae"/>
</linearGradient>
<g id="owner" transform="translate(579.1,445.1)">
<rect x="0" y="0" width="70.6" height="50.6" fill="#fff"/>
<!-- stove bar -->
<rect x="7" y="22.4" width="45.8" height="4.5" rx="1.4" fill="#3f4f52"/>
<circle cx="22.4" cy="24.7" r="1.1" fill="#dfe6e6"/><circle cx="38.9" cy="24.7" r="1.1" fill="#dfe6e6"/>
<path d="M14.8 22.6L16.6 19.6H21.6L23.6 22.6M37.6 22.6L39.4 19H45L46.8 22.6" stroke="#2f3a3c" stroke-width="1" fill="none"/>
<!-- wok -->
<path d="M9.4 13.2H29Q27.6 20.4 19.2 20.5Q10.8 20.4 9.4 13.2Z" fill="#2f3a3c"/>
<path d="M1.6 10.9Q6 12.8 10.8 14.2" stroke="#2a3335" stroke-width="1.5" stroke-linecap="round" fill="none"/>
<!-- pot -->
<rect x="35.9" y="8.6" width="12.7" height="10.6" rx="0.8" fill="#8ea6b9"/>
<rect x="35.6" y="8" width="13.3" height="1.8" rx="0.6" fill="#c4d1da"/>
<rect x="37.4" y="10.4" width="2" height="8" fill="#a9bccb"/>
<!-- gas cylinder -->
<path d="M56.2 17V12.2Q56.2 10.6 57.8 10.6H62Q63.6 10.6 63.6 12.2V17" stroke="#2b7cd4" stroke-width="1.5" fill="none"/>
<rect x="58.6" y="12.6" width="2.6" height="4" fill="#2b7cd4"/>
<rect x="52.6" y="16.4" width="14.4" height="29.4" rx="6" fill="url(#bcyl)"/>
<rect x="53.2" y="27.3" width="13.2" height="3.8" fill="#c2395b"/>
<rect x="54.4" y="28.4" width="10.6" height="1.5" fill="#8a2f6a" opacity="0.6"/>
<rect x="59" y="35.4" width="1.3" height="3.4" fill="#c2395b"/>
<rect x="55" y="44.8" width="9.6" height="1.4" rx="0.6" fill="#1c5cae"/>
</g>

<!--GRAPHICS-->
</svg>
</body>
</html>
